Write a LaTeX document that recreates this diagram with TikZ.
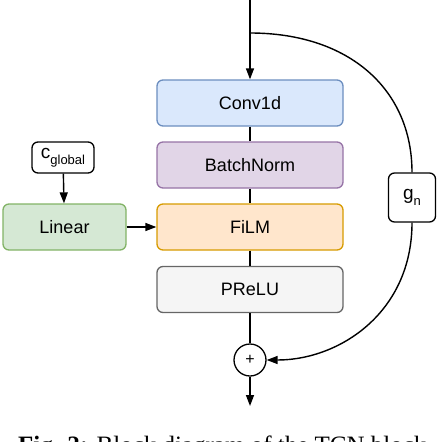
\documentclass[tikz,border=0pt]{standalone}
\usepackage{fontspec}
\setmainfont{Liberation Sans}
\newfontfamily\capfont{Liberation Serif}
\usetikzlibrary{arrows.meta}
\definecolor{fblue}{HTML}{DAE8FC}\definecolor{sblue}{HTML}{6C8EBF}
\definecolor{fpurp}{HTML}{E1D5E7}\definecolor{spurp}{HTML}{9673A6}
\definecolor{forng}{HTML}{FFE6CC}\definecolor{sorng}{HTML}{D79B00}
\definecolor{fgray}{HTML}{F5F5F5}\definecolor{sgray}{HTML}{666666}
\definecolor{fgrn}{HTML}{D5E8D4}\definecolor{sgrn}{HTML}{82B366}
\newcommand{\subtxt}[1]{\raisebox{-0.3em}{\fontsize{13}{13}\selectfont #1}}
\begin{document}
\begin{tikzpicture}[x=1pt,y=-1pt,
  blk/.style={draw, rounded corners=6, line width=1.3, minimum width=186, minimum height=46, inner sep=0, font=\fontsize{18}{20}\selectfont},
  smallbox/.style={draw=black, fill=white, rounded corners=6, line width=1.3, inner sep=0, font=\fontsize{19}{20}\selectfont},
  wire/.style={line width=1.4, black},
  arr/.style={wire, -{Triangle[length=11, width=8]}}]
\useasboundingbox (0,0) rectangle (438,442);
\clip (0,0) rectangle (438,442);
\node[blk, fill=fblue, draw=sblue] (conv) at (250,103) {Conv1d};
\node[blk, fill=fpurp, draw=spurp] (batch) at (250,165) {BatchNorm};
\node[blk, fill=forng, draw=sorng] (film) at (250,227) {FiLM};
\node[blk, fill=fgray, draw=sgray] (prelu) at (250,289.5) {PReLU};
\node[blk, fill=fgrn, draw=sgrn, minimum width=123] (linear) at (64.5,227) {Linear};
\node[smallbox, minimum width=62, minimum height=31] (cg) at (63,157.5) {c\subtxt{global}};
\node[smallbox, minimum width=47, minimum height=49] (gn) at (412,197.5) {g\subtxt{n}};
\node[circle, draw=black, fill=white, line width=1.3, minimum size=32, inner sep=0, font=\fontsize{16}{16}\selectfont] (plus) at (250,360) {+};
\coordinate (in) at (250,0);
\coordinate (split) at (250,33);
\coordinate (out) at (250,406);
\draw[arr] (in) -- (conv.north);
\draw[wire] (conv) -- (batch);
\draw[wire] (batch) -- (film);
\draw[wire] (film) -- (prelu);
\draw[wire] (prelu) -- (plus);
\draw[arr] (plus) -- (out);
\draw[arr] (cg) -- (linear);
\draw[arr] (linear) -- (film);
\draw[wire] (split) .. controls (350,33) and (412,90) .. (gn.north);
\draw[arr] (gn.south) .. controls (412,312) and (340,360) .. (plus.east);
\node[anchor=base west, inner sep=0, font=\capfont\fontsize{25}{27}\selectfont] (cap) at (18,453) {\textbf{Fig. 2:} Block diagram of the TCN block};
\end{tikzpicture}
\end{document}
